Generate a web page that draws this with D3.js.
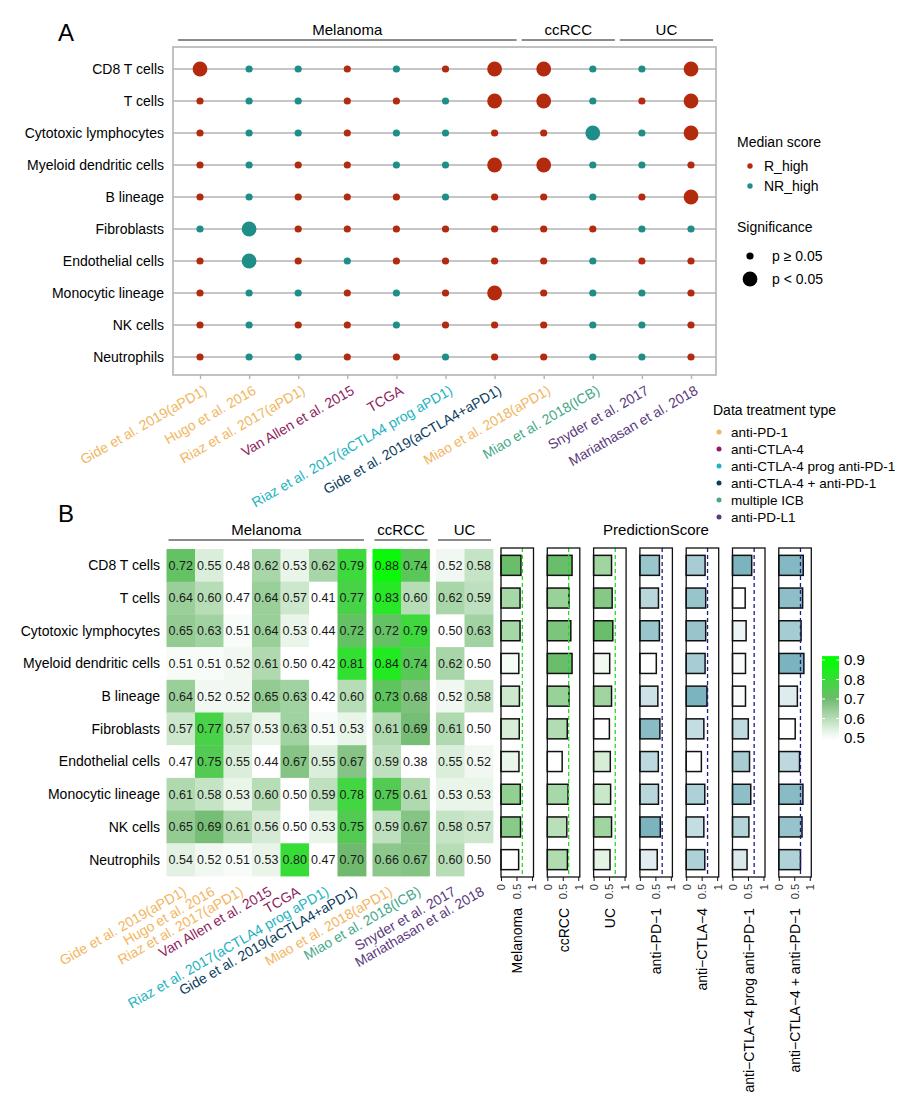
<!DOCTYPE html>
<html>
<head>
<meta charset="utf-8">
<script src="https://cdn.jsdelivr.net/npm/d3@7"></script>
<style>
  body { margin: 0; background: #fff; }
  svg text { font-family: "Liberation Sans", Arial, sans-serif; }
</style>
</head>
<body>
<div id="chart"></div>
<script>
// ---- data ----
const cellTypes = ["CD8 T cells", "T cells", "Cytotoxic lymphocytes", "Myeloid dendritic cells",
  "B lineage", "Fibroblasts", "Endothelial cells", "Monocytic lineage", "NK cells", "Neutrophils"];

const datasets = ["Gide et al. 2019(aPD1)", "Hugo et al. 2016", "Riaz et al. 2017(aPD1)",
  "Van Allen et al. 2015", "TCGA", "Riaz et al. 2017(aCTLA4 prog aPD1)",
  "Gide et al. 2019(aCTLA4+aPD1)", "Miao et al. 2018(aPD1)", "Miao et al. 2018(ICB)",
  "Snyder et al. 2017", "Mariathasan et al. 2018"];

const datasetGroup = ["Melanoma", "Melanoma", "Melanoma", "Melanoma", "Melanoma", "Melanoma",
  "Melanoma", "ccRCC", "ccRCC", "UC", "UC"];
const groupNames = ["Melanoma", "ccRCC", "UC"];

const treatmentTypes = ["anti-PD-1", "anti-CTLA-4", "anti-CTLA-4 prog anti-PD-1",
  "anti-CTLA-4 + anti-PD-1", "multiple ICB", "anti-PD-L1"];
const treatmentColors = ["#F2B661", "#8E1D5D", "#22B2C0", "#0C3D5D", "#45A889", "#5B3A7E"];
const datasetTreatment = ["anti-PD-1", "anti-PD-1", "anti-PD-1", "anti-CTLA-4", "anti-CTLA-4",
  "anti-CTLA-4 prog anti-PD-1", "anti-CTLA-4 + anti-PD-1", "anti-PD-1", "multiple ICB",
  "anti-PD-L1", "anti-PD-L1"];

// panel A: which group has the higher median score (R = responders, N = non-responders)
const medianHigh = [
  ["R","N","N","R","N","R","R","R","N","N","R"],
  ["R","N","N","R","R","N","R","R","N","R","R"],
  ["R","N","N","R","N","N","R","R","N","N","R"],
  ["R","N","R","R","N","N","R","R","N","N","R"],
  ["R","N","R","R","R","N","R","R","N","R","R"],
  ["N","N","R","R","R","R","R","R","R","N","N"],
  ["R","N","R","N","R","R","R","R","N","R","R"],
  ["R","N","N","R","N","R","R","R","N","N","R"],
  ["R","N","R","R","N","R","R","R","N","N","R"],
  ["R","N","N","R","R","N","R","R","N","N","R"]
];
// panel A: 1 = p < 0.05
const significant = [
  [1,0,0,0,0,0,1,1,0,0,1],
  [0,0,0,0,0,0,1,1,0,0,1],
  [0,0,0,0,0,0,0,0,1,0,1],
  [0,0,0,0,0,0,1,1,0,0,0],
  [0,0,0,0,0,0,0,0,0,0,1],
  [0,1,0,0,0,0,0,0,0,0,0],
  [0,1,0,0,0,0,0,0,0,0,0],
  [0,0,0,0,0,0,1,0,0,0,0],
  [0,0,0,0,0,0,0,0,0,0,0],
  [0,0,0,0,0,0,0,0,0,0,0]
];

// panel B heatmap values (rows = cell types, columns = datasets)
const aucValues = [
  [0.72,0.55,0.48,0.62,0.53,0.62,0.79,0.88,0.74,0.52,0.58],
  [0.64,0.60,0.47,0.64,0.57,0.41,0.77,0.83,0.60,0.62,0.59],
  [0.65,0.63,0.51,0.64,0.53,0.44,0.72,0.72,0.79,0.50,0.63],
  [0.51,0.51,0.52,0.61,0.50,0.42,0.81,0.84,0.74,0.62,0.50],
  [0.64,0.52,0.52,0.65,0.63,0.42,0.60,0.73,0.68,0.52,0.58],
  [0.57,0.77,0.57,0.53,0.63,0.51,0.53,0.61,0.69,0.61,0.50],
  [0.47,0.75,0.55,0.44,0.67,0.55,0.67,0.59,0.38,0.55,0.52],
  [0.61,0.58,0.53,0.60,0.50,0.59,0.78,0.75,0.61,0.53,0.53],
  [0.65,0.69,0.61,0.56,0.50,0.53,0.75,0.59,0.67,0.58,0.57],
  [0.54,0.52,0.51,0.53,0.80,0.47,0.70,0.66,0.67,0.60,0.50]
];

// panel B prediction score bars
const scorePanels = ["Melanoma", "ccRCC", "UC", "anti\u2212PD\u22121", "anti\u2212CTLA\u22124",
  "anti\u2212CTLA\u22124 prog anti\u2212PD\u22121", "anti\u2212CTLA\u22124 + anti\u2212PD\u22121"];
const scoreKind = ["cancer", "cancer", "cancer", "treatment", "treatment", "treatment", "treatment"];
const scoreValues = [
  [0.645,0.615,0.615,0.575,0.595,0.59,0.58,0.625,0.63,0.57],
  [0.80,0.70,0.76,0.80,0.70,0.645,0.48,0.67,0.63,0.65],
  [0.58,0.60,0.62,0.52,0.58,0.51,0.54,0.55,0.58,0.53],
  [0.63,0.60,0.63,0.53,0.58,0.645,0.595,0.60,0.66,0.56],
  [0.61,0.63,0.63,0.61,0.67,0.57,0.49,0.60,0.57,0.60],
  [0.62,0.41,0.44,0.42,0.42,0.51,0.55,0.59,0.53,0.47],
  [0.79,0.77,0.72,0.81,0.60,0.53,0.67,0.78,0.75,0.70]
];
const scoreCutoff = [0.69, 0.69, 0.70, 0.72, 0.69, 0.70, 0.70];

const heatTicks = [0.5, 0.6, 0.7, 0.8, 0.9];

// ---- setup ----
const W = 911, H = 1106;
const svg = d3.select("#chart").append("svg").attr("width", W).attr("height", H);
svg.append("rect").attr("width", W).attr("height", H).attr("fill", "#fff");

const treatColor = d3.scaleOrdinal().domain(treatmentTypes).range(treatmentColors);
const dirColor = d3.scaleOrdinal().domain(["R", "N"]).range(["#B32A0E", "#1F8E89"]);
const sigRadius = d3.scaleOrdinal().domain([0, 1]).range([3.6, 7.4]);
const heatColor = d3.scaleLinear().domain([0.5, 0.7, 0.9])
  .range(["#ffffff", "#6fba6f", "#00ff00"]).clamp(true);

// panel letters
svg.append("text").attr("x", 58).attr("y", 41).text("A").style("font-size", "24px");
svg.append("text").attr("x", 58).attr("y", 522).text("B").style("font-size", "24px");

// =============== panel A ===============
const boxA = { x0: 173, x1: 716, y0: 47, y1: 375 };
const xA = d3.scalePoint().domain(datasets).range([200, 691]);
const yA = d3.scalePoint().domain(cellTypes).range([69, 357]);
const gA = svg.append("g");

// group headers
const stepA = xA.step();
groupNames.forEach(g => {
  let cols = datasets.filter((d, i) => datasetGroup[i] == g);
  let x0 = xA(cols[0]) - stepA / 2 + 2.5, x1 = xA(cols[cols.length - 1]) + stepA / 2 - 2.5;
  gA.append("line").attr("x1", x0).attr("x2", x1).attr("y1", 40).attr("y2", 40)
    .attr("stroke", "#666").attr("stroke-width", 1.7);
  gA.append("text").attr("x", (x0 + x1) / 2).attr("y", 35).attr("text-anchor", "middle")
    .text(g).style("font-size", "15px");
});

gA.selectAll(".rowline").data(cellTypes).join("line")
  .attr("x1", boxA.x0).attr("x2", boxA.x1)
  .attr("y1", d => yA(d)).attr("y2", d => yA(d))
  .attr("stroke", "#b3b3b3").attr("stroke-width", 1.6);

gA.append("rect").attr("x", boxA.x0).attr("y", boxA.y0)
  .attr("width", boxA.x1 - boxA.x0).attr("height", boxA.y1 - boxA.y0)
  .attr("fill", "none").attr("stroke", "#b3b3b3").attr("stroke-width", 1.6);

let dotData = [];
cellTypes.forEach((ct, i) => datasets.forEach((ds, j) => {
  dotData.push({ ct: ct, ds: ds, dir: medianHigh[i][j], sig: significant[i][j] });
}));
gA.selectAll(".dot").data(dotData).join("circle")
  .attr("cx", d => xA(d.ds)).attr("cy", d => yA(d.ct))
  .attr("r", d => sigRadius(d.sig))
  .attr("fill", d => dirColor(d.dir));

// y labels
const ayA = gA.append("g").attr("transform", "translate(" + (boxA.x0 - 1) + ",0)")
  .call(d3.axisLeft(yA).tickSize(0).tickPadding(8));
ayA.select(".domain").remove();
ayA.selectAll("text").style("font-size", "14px").attr("fill", "#000");

// x labels
const axA = gA.append("g").attr("transform", "translate(0," + boxA.y1 + ")")
  .call(d3.axisBottom(xA).tickSize(4).tickSizeOuter(0));
axA.select(".domain").remove();
axA.selectAll(".tick line").attr("stroke", "#b3b3b3").attr("stroke-width", 1.4);
axA.selectAll(".tick text")
  .attr("x", 0).attr("y", 0).attr("dy", "0.35em")
  .attr("transform", "translate(5,14) rotate(-30)")
  .attr("text-anchor", "end")
  .style("font-size", "14px")
  .attr("fill", (d, i) => treatColor(datasetTreatment[i]));

// legends A
const lg = svg.append("g");
lg.append("text").attr("x", 737).attr("y", 147).text("Median score").style("font-size", "14px");
["R_high", "NR_high"].forEach((t, i) => {
  lg.append("circle").attr("cx", 750).attr("cy", 166 + i * 20).attr("r", 2.7)
    .attr("fill", dirColor(i == 0 ? "R" : "N"));
  lg.append("text").attr("x", 764).attr("y", 166 + i * 20).attr("dy", "0.35em")
    .text(t).style("font-size", "14px");
});
lg.append("text").attr("x", 737).attr("y", 232).text("Significance").style("font-size", "14px");
["p \u2265 0.05", "p < 0.05"].forEach((t, i) => {
  lg.append("circle").attr("cx", 750).attr("cy", 256 + i * 23).attr("r", sigRadius(i))
    .attr("fill", "#000");
  lg.append("text").attr("x", 772).attr("y", 256 + i * 23).attr("dy", "0.35em")
    .text(t).style("font-size", "14px");
});

lg.append("text").attr("x", 713).attr("y", 415).text("Data treatment type").style("font-size", "14px");
treatmentTypes.forEach((t, i) => {
  lg.append("circle").attr("cx", 719).attr("cy", 432 + i * 17).attr("r", 2.5)
    .attr("fill", treatColor(t));
  lg.append("text").attr("x", 731).attr("y", 432 + i * 17).attr("dy", "0.35em")
    .text(t).style("font-size", "13.5px");
});

// =============== panel B heatmap ===============
const cellW = 28.5, groupGap = 6.5, heatX0 = 166.5;
const xB = d3.scaleBand().domain(datasets).range([heatX0, heatX0 + datasets.length * cellW]);
const colX = ds => xB(ds) + groupNames.indexOf(datasetGroup[datasets.indexOf(ds)]) * groupGap;
const yB = d3.scaleBand().domain(cellTypes).range([549, 876]);
const gB = svg.append("g");

groupNames.forEach(g => {
  let cols = datasets.filter((d, i) => datasetGroup[i] == g);
  let x0 = colX(cols[0]) + 2, x1 = colX(cols[cols.length - 1]) + cellW - 2;
  gB.append("line").attr("x1", x0).attr("x2", x1).attr("y1", 540).attr("y2", 540)
    .attr("stroke", "#666").attr("stroke-width", 1.7);
  gB.append("text").attr("x", (x0 + x1) / 2).attr("y", 535).attr("text-anchor", "middle")
    .text(g).style("font-size", "15px");
});

let cellData = [];
cellTypes.forEach((ct, i) => datasets.forEach((ds, j) => {
  cellData.push({ ct: ct, ds: ds, v: aucValues[i][j] });
}));
gB.selectAll(".cell").data(cellData).join("rect")
  .attr("x", d => colX(d.ds)).attr("y", d => yB(d.ct))
  .attr("width", cellW + 0.4).attr("height", yB.bandwidth() + 0.4)
  .attr("fill", d => heatColor(d.v));
gB.selectAll(".cellText").data(cellData).join("text")
  .attr("x", d => colX(d.ds) + cellW / 2).attr("y", d => yB(d.ct) + yB.bandwidth() / 2)
  .attr("dy", "0.35em").attr("text-anchor", "middle")
  .text(d => d.v.toFixed(2)).style("font-size", "12.5px").attr("fill", "#1a1a1a");

gB.selectAll(".rowLab").data(cellTypes).join("text")
  .attr("x", 160).attr("y", d => yB(d) + yB.bandwidth() / 2).attr("dy", "0.35em")
  .attr("text-anchor", "end").text(d => d).style("font-size", "14px");

gB.selectAll(".colLab").data(datasets).join("text")
  .attr("transform", d => "translate(" + (colX(d) + cellW / 2 + 4) + ",890) rotate(-30)")
  .attr("text-anchor", "end").attr("dy", "0.35em")
  .text(d => d).style("font-size", "14px")
  .attr("fill", (d, i) => treatColor(datasetTreatment[i]));

// heatmap colour legend
const legY = d3.scaleLinear().domain([0.5, 0.9]).range([738, 660]);
const defs = svg.append("defs");
const grad = defs.append("linearGradient").attr("id", "heatGrad")
  .attr("x1", 0).attr("y1", 1).attr("x2", 0).attr("y2", 0);
d3.range(0, 1.001, 0.1).forEach(t => {
  let v = 0.485 + t * (0.92 - 0.485);
  grad.append("stop").attr("offset", t).attr("stop-color", heatColor(v));
});
svg.append("rect").attr("x", 822).attr("y", legY(0.92)).attr("width", 17)
  .attr("height", legY(0.485) - legY(0.92)).attr("fill", "url(#heatGrad)");
heatTicks.forEach(t => {
  svg.append("line").attr("x1", 822).attr("x2", 825).attr("y1", legY(t)).attr("y2", legY(t))
    .attr("stroke", "#fff").attr("stroke-width", 1);
  svg.append("line").attr("x1", 836).attr("x2", 839).attr("y1", legY(t)).attr("y2", legY(t))
    .attr("stroke", "#fff").attr("stroke-width", 1);
  svg.append("text").attr("x", 844).attr("y", legY(t)).attr("dy", "0.35em")
    .text(t.toFixed(1)).style("font-size", "15px");
});

// =============== panel B prediction score ===============
const panelW = 32.5;
const xP = d3.scaleBand().domain(scorePanels).range([501, 811.3]).paddingInner(0.298).paddingOuter(0);
const xv = d3.scaleLinear().domain([0, 1.05]).range([0, panelW]);
const boxTop = 548, boxBot = 877;

svg.append("text").attr("x", (501 + 811) / 2).attr("y", 535).attr("text-anchor", "middle")
  .text("PredictionScore").style("font-size", "15px");

scorePanels.forEach((p, pi) => {
  let vals = scoreValues[pi];
  let maxCol = scoreKind[pi] == "cancer" ? "#6abd6a" : "#7bb3be";
  let lineCol = scoreKind[pi] == "cancer" ? "#22dd22" : "#1c1c8f";
  let fill = d3.scaleLinear().domain(d3.extent(vals)).range(["#ffffff", maxCol]);
  let g = svg.append("g").attr("transform", "translate(" + xP(p) + ",0)");

  g.selectAll(".bar").data(vals).join("rect")
    .attr("x", 0).attr("y", (d, i) => yB(cellTypes[i]) + yB.bandwidth() / 2 - 10)
    .attr("width", d => xv(d)).attr("height", 20)
    .attr("fill", d => fill(d)).attr("stroke", "#111").attr("stroke-width", 1.5);

  g.append("line").attr("x1", xv(scoreCutoff[pi])).attr("x2", xv(scoreCutoff[pi]))
    .attr("y1", boxTop).attr("y2", boxBot)
    .attr("stroke", lineCol).attr("stroke-width", 1.3).attr("stroke-dasharray", "4,3");

  g.append("rect").attr("x", 0).attr("y", boxTop).attr("width", panelW)
    .attr("height", boxBot - boxTop).attr("fill", "none")
    .attr("stroke", "#111").attr("stroke-width", 1.3);

  let ax = g.append("g").attr("transform", "translate(0," + boxBot + ")")
    .call(d3.axisBottom(xv).tickValues([0, 0.5, 1]).tickSize(4).tickSizeOuter(0)
      .tickFormat(d3.format("")));
  ax.select(".domain").remove();
  ax.selectAll(".tick line").attr("stroke", "#111");
  ax.selectAll(".tick text")
    .attr("transform", "rotate(-90)").attr("text-anchor", "end")
    .attr("x", -7).attr("y", 0).attr("dy", "0.35em")
    .style("font-size", "11px").attr("fill", "#333");

  g.append("text").attr("transform", "translate(" + (panelW / 2 + 5) + ",908) rotate(-90)")
    .attr("text-anchor", "end").text(p).style("font-size", "14px");
});
</script>
</body>
</html>
